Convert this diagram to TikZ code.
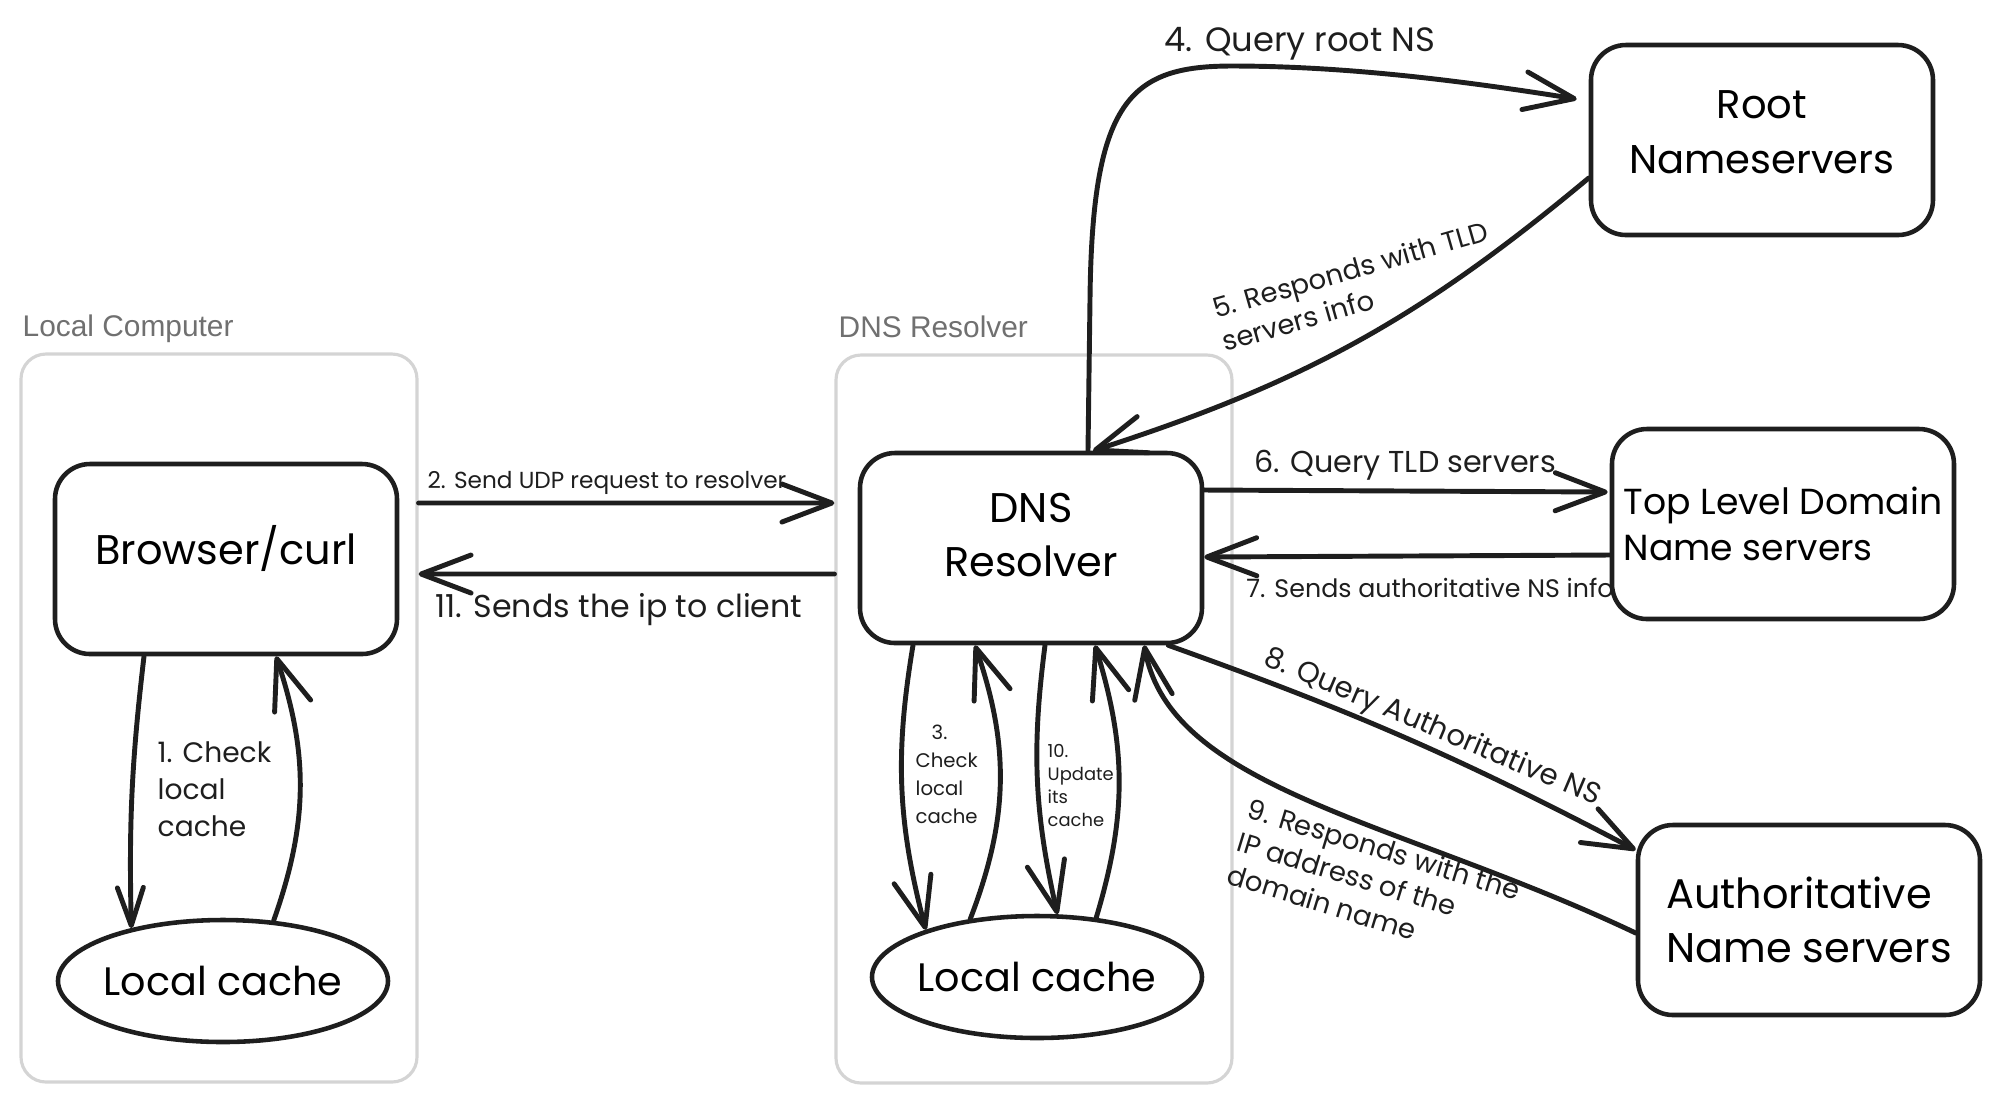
\documentclass[tikz,border=0pt]{standalone}
\usepackage{fontspec}
\setmainfont{Poppins}
\newfontfamily\grpfont{Liberation Sans}
\usetikzlibrary{arrows.meta, shapes, calc}
\definecolor{myink}{RGB}{30, 30, 30}
\definecolor{mygray}{RGB}{212, 212, 212}
\definecolor{mylabel}{RGB}{112, 112, 112}
\tikzset{>={Straight Barb[length=5mm, width=3.8mm, round]}}
\tikzset{
sketchbox/.style = {draw = myink, line width = 1.3pt, rounded corners = 3.5mm, minimum width = 34.2mm, minimum height = 19mm, align = center, inner sep = 0pt, font = \fontsize{11.8}{15.5}\selectfont},
cachenode/.style = {draw = myink, line width = 1.3pt, ellipse, minimum width = 33mm, minimum height = 12.2mm, inner xsep = -0.6mm, inner ysep = 0pt, font = \fontsize{11.3}{14}\selectfont},
groupbox/.style = {draw = mygray, line width = 0.9pt, rounded corners = 2.5mm, minimum width = 39.6mm, minimum height = 72.8mm, inner sep = 0pt},
grouplabel/.style = {text = mylabel, font = \grpfont\fontsize{8.5}{10}\selectfont, anchor = base west, inner sep = 0pt},
flow/.style = {->, draw = myink, line width = 1.4pt, line cap = round},
lbl/.style = {inner sep = 0pt, text = myink}
}

\begin{document}
\begin{tikzpicture}[x=0.1mm, y=-0.1mm]
\useasboundingbox (0,0) rectangle (2000,1106);
\node[groupbox] (pc) at (219,718) {};
\node[groupbox] (resolvergrp) at (1034,719) {};
\node[grouplabel] (pclabel) at (22,336) {Local Computer};
\node[grouplabel] (resolverlabel) at (838,337) {DNS Resolver};

\node[sketchbox, text depth = 2.8mm] (browser) at (226,559) {Browser/curl};
\node[cachenode] (pccache) at (223,981) {Local cache};
\node[sketchbox, text depth = 2.6mm] (dns) at (1031,548) {DNS\\Resolver};
\node[cachenode] (dnscache) at (1037,977) {Local cache};
\node[sketchbox, text depth = 1.6mm, font = \fontsize{11.4}{15.5}\selectfont] (root) at (1762,140) {Root\\Nameservers};
\node[sketchbox, align = left, font = \fontsize{10.3}{13}\selectfont] (tld) at (1783,524) {Top Level Domain\\Name servers};
\node[sketchbox, align = left] (auth) at (1809,920) {Authoritative\\Name servers};

\draw[flow, >={Straight Barb[length=3.8mm, width=2.6mm, round]}] ([xshift=-8.2mm]browser.south) to[bend right=4] (pccache.150);
\draw[flow] (pccache.50) to[bend right=19] ([xshift=5mm]browser.south);
\draw[flow] ([yshift=21.5mm]pc.east) -- ([yshift=21.6mm]resolvergrp.west);
\draw[flow] ([yshift=14.5mm]resolvergrp.west) -- ([yshift=14.4mm]pc.east);
\draw[flow] ([xshift=-11.8mm]dns.south) to[bend right=12] (dnscache.157);
\draw[flow] (dnscache.139) to[bend right=20] ([xshift=-5.6mm]dns.south);
\draw[flow] ([xshift=1.4mm]dns.south) to[bend right=10] (dnscache.72);
\draw[flow] (dnscache.45) to[bend right=17] ([xshift=6.4mm]dns.south);
\draw[flow] ([xshift=5.7mm]dns.north) -- (1090,300) .. controls (1092,100) and (1130,66) .. (1232,66)
  .. controls (1350,66) and (1470,82) .. ([xshift=-1.2mm, yshift=4.1mm]root.west);
\draw[flow] ([yshift=-3.8mm]root.west) to[bend left=11] ([xshift=6.2mm]dns.north);
\draw[flow] ([yshift=5.8mm]dns.east) -- ([xshift=-0.2mm, yshift=3.2mm]tld.west);
\draw[flow] ([yshift=-3.1mm]tld.west) -- ([yshift=-0.9mm]dns.east);
\draw[flow] ([xshift=-3.6mm]dns.south east) to[bend left=4] ([yshift=7mm]auth.west);
\draw[flow] ([yshift=-1.3mm]auth.west) .. controls (1400,821) and (1170,790) .. ([xshift=-6mm]dns.south east);

\node[lbl, anchor = base, font = \fontsize{6.6}{8}\selectfont] (udplbl) at (607,488) {2. Send UDP request to resolver};
\node[lbl, anchor = base, font = \fontsize{9}{11}\selectfont] (clientlbl) at (619,617) {11. Sends the ip to client};
\node[lbl, anchor = base, font = \fontsize{9.6}{11}\selectfont] (rootqlbl) at (1300,51) {4. Query root NS};
\node[lbl, anchor = base, font = \fontsize{8.6}{11}\selectfont] (tldqlbl) at (1405,472) {6. Query TLD servers};
\node[lbl, anchor = base, font = \fontsize{7.2}{9}\selectfont] (tldrlbl) at (1430,597) {7. Sends authoritative NS info};
\node[lbl, align = left, rotate = 16, font = \fontsize{7.8}{9.8}\selectfont] (rootrlbl) at (1355,286) {5. Responds with TLD\\servers info};
\node[lbl, rotate = -23, font = \fontsize{8.3}{10}\selectfont] (authqlbl) at (1432,728) {8. Query Authoritative NS};
\node[lbl, align = left, rotate = -17, font = \fontsize{7.8}{9.8}\selectfont] (authrlbl) at (1374,882) {9. Responds with the\\IP address of the\\domain name};
\node[lbl, align = left, anchor = north west, font = \fontsize{8}{10.5}\selectfont] (pcchecklbl) at (157,741) {1. Check\\local\\cache};
\node[lbl, align = left, anchor = north west, font = \fontsize{5.6}{8}\selectfont] (dnschecklbl) at (915,724) {\hspace*{1.6mm}3.\\Check\\local\\cache};
\node[lbl, align = left, anchor = north west, font = \fontsize{5.1}{6.5}\selectfont] (updatelbl) at (1047,744) {10.\\Update\\its\\cache};
\end{tikzpicture}
\end{document}
